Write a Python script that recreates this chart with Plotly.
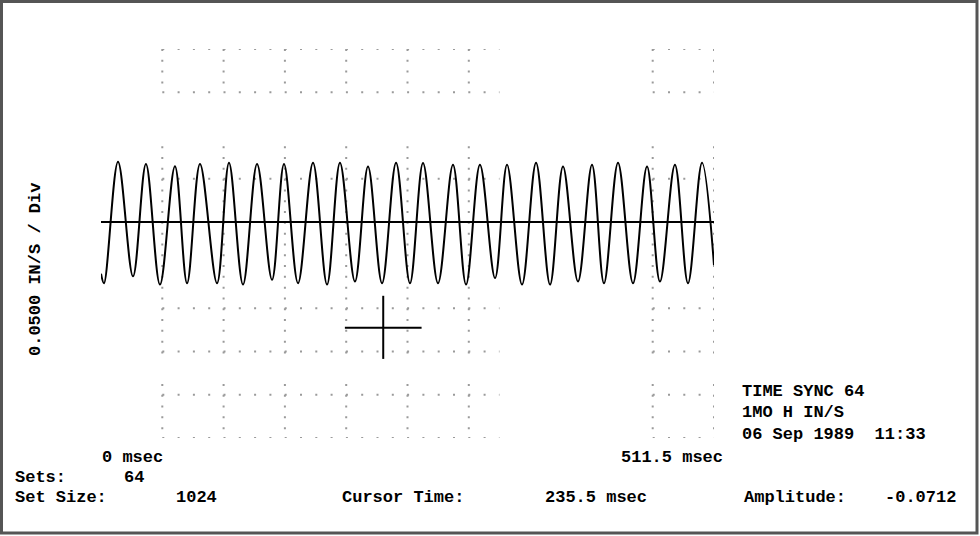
import plotly.graph_objects as go

# Waveform: time of each peak/trough (msec) and amplitude (IN/S)
time_ms = [0, 2.5, 14.2, 26.7, 37.5, 49.2, 61.7, 71.8, 82.6, 96.8, 106.8,
           118.5, 130.2, 142.7, 152.7, 164.4, 176.9, 188.6, 199.4, 211.9, 222.8,
           234.5, 246.2, 257.8, 268.7, 281.2, 293.7, 304.6, 316.2, 328.8, 338.8,
           351.3, 363.0, 374.7, 385.5, 398.0, 409.7, 419.7, 431.4, 443.9, 455.6,
           466.4, 478.9, 489.8, 501.5, 511.5]
amp = [-0.060, -0.071, 0.0695, -0.063, 0.067, -0.0725, 0.0645, -0.071, 0.067, -0.071, 0.0685,
       -0.0725, 0.067, -0.067, 0.067, -0.071, 0.0685, -0.0725, 0.0685, -0.069, 0.064,
       -0.071, 0.0685, -0.071, 0.068, -0.071, 0.066, -0.0725, 0.066, -0.065, 0.066,
       -0.0725, 0.0685, -0.0725, 0.064, -0.069, 0.066, -0.071, 0.0685, -0.071, 0.064,
       -0.069, 0.066, -0.071, 0.0685, -0.050]

# Cursor readout
cursor_t = 235.5
cursor_y = -0.1225

# Screen scale
t_end = 511.5
div_t = t_end / 10
div_y = 0.05

# Labels
y_label = "0.0500 IN/S / Div"
info_lines = ["TIME SYNC 64", "1MO H IN/S", "06 Sep 1989  11:33"]

FONT = dict(family="Liberation Mono, DejaVu Sans Mono, monospace", size=17,
            color="black", weight="bold")

# plot area in window pixels (page margin removed below)
W, H = 980, 536
L, R, T, B = 101, 714, 49, 438


def px(x):
    return (x - L) / (R - L)


def py(y):
    return (B - y) / (B - T)


def ann(text, x, y, anchor="center", **kw):
    d = dict(text=text, x=px(x), y=py(y), xref="paper", yref="paper",
             xanchor=anchor, yanchor="middle", showarrow=False, font=FONT)
    d.update(kw)
    return d


fig = go.Figure()
fig.add_trace(go.Scatter(x=time_ms, y=amp, mode="lines",
                         line=dict(color="black", width=2, shape="spline"),
                         hoverinfo="skip"))

# Dotted grid pieces (in divisions)
grid_cols = [1, 2, 3, 4, 5, 6, 9, 10]
col_spans = [(3, 4), (-3.25, 1.75), (-5, -3.75)]
grid_rows = [4, 3, 1, -2, -3, -4, -5]
row_spans = [(1, 6.5), (9, 10)]

shapes = []
for c in grid_cols:
    for y0, y1 in col_spans:
        shapes.append(dict(type="line", x0=c * div_t, x1=c * div_t,
                           y0=y1 * div_y, y1=y0 * div_y, layer="below",
                           line=dict(color="#9a9a9a", width=2, dash="2px,8.8px")))
for r in grid_rows:
    for x0, x1 in row_spans:
        shapes.append(dict(type="line", x0=x0 * div_t, x1=x1 * div_t,
                           y0=r * div_y, y1=r * div_y, layer="below",
                           line=dict(color="#9a9a9a", width=2, dash="2px,13.3px")))

# Cursor cross
shapes.append(dict(type="line", x0=cursor_t - 32, x1=cursor_t + 32,
                   y0=cursor_y, y1=cursor_y, line=dict(color="black", width=2)))
shapes.append(dict(type="line", x0=cursor_t, x1=cursor_t,
                   y0=cursor_y - 0.036, y1=cursor_y + 0.037,
                   line=dict(color="black", width=2)))

# Frame around the picture
shapes.append(dict(type="rect", xref="paper", yref="paper",
                   x0=px(1.5), x1=px(977), y0=py(533), y1=py(1.5),
                   line=dict(color="#555555", width=3)))

annotations = [
    ann(y_label, 35, 270, textangle=-90),
    ann("0 msec", 132, 457),
    ann(f"{t_end} msec", 672, 457),
    ann("Sets:", 13, 477, anchor="left"),
    ann("64", 134, 477),
    ann("Set Size:", 13, 497, anchor="left"),
    ann("1024", 196, 497),
    ann("Cursor Time:", 403, 497),
    ann(f"{cursor_t} msec", 596, 497),
    ann("Amplitude:", 795, 497),
    ann("-0.0712", 920, 497),
]
for i, line in enumerate(info_lines):
    annotations.append(ann(line, 740, 391 + i * 21.5, anchor="left"))

fig.update_layout(
    width=W, height=H,
    margin=dict(l=L, r=W - R, t=T, b=H - B),
    paper_bgcolor="white", plot_bgcolor="white",
    showlegend=False,
    shapes=shapes,
    annotations=annotations,
    xaxis=dict(range=[0, t_end], showgrid=False, zeroline=False,
               showticklabels=False, ticks="", showline=False, fixedrange=True),
    yaxis=dict(range=[-5 * div_y, 4 * div_y], showgrid=False,
               zeroline=True, zerolinecolor="black", zerolinewidth=2,
               showticklabels=False, ticks="", showline=False, fixedrange=True),
)

fig.write_html("out.html", config={"displayModeBar": False},
               post_script="document.body.style.margin='0';"
                           "document.body.style.overflow='hidden';")
